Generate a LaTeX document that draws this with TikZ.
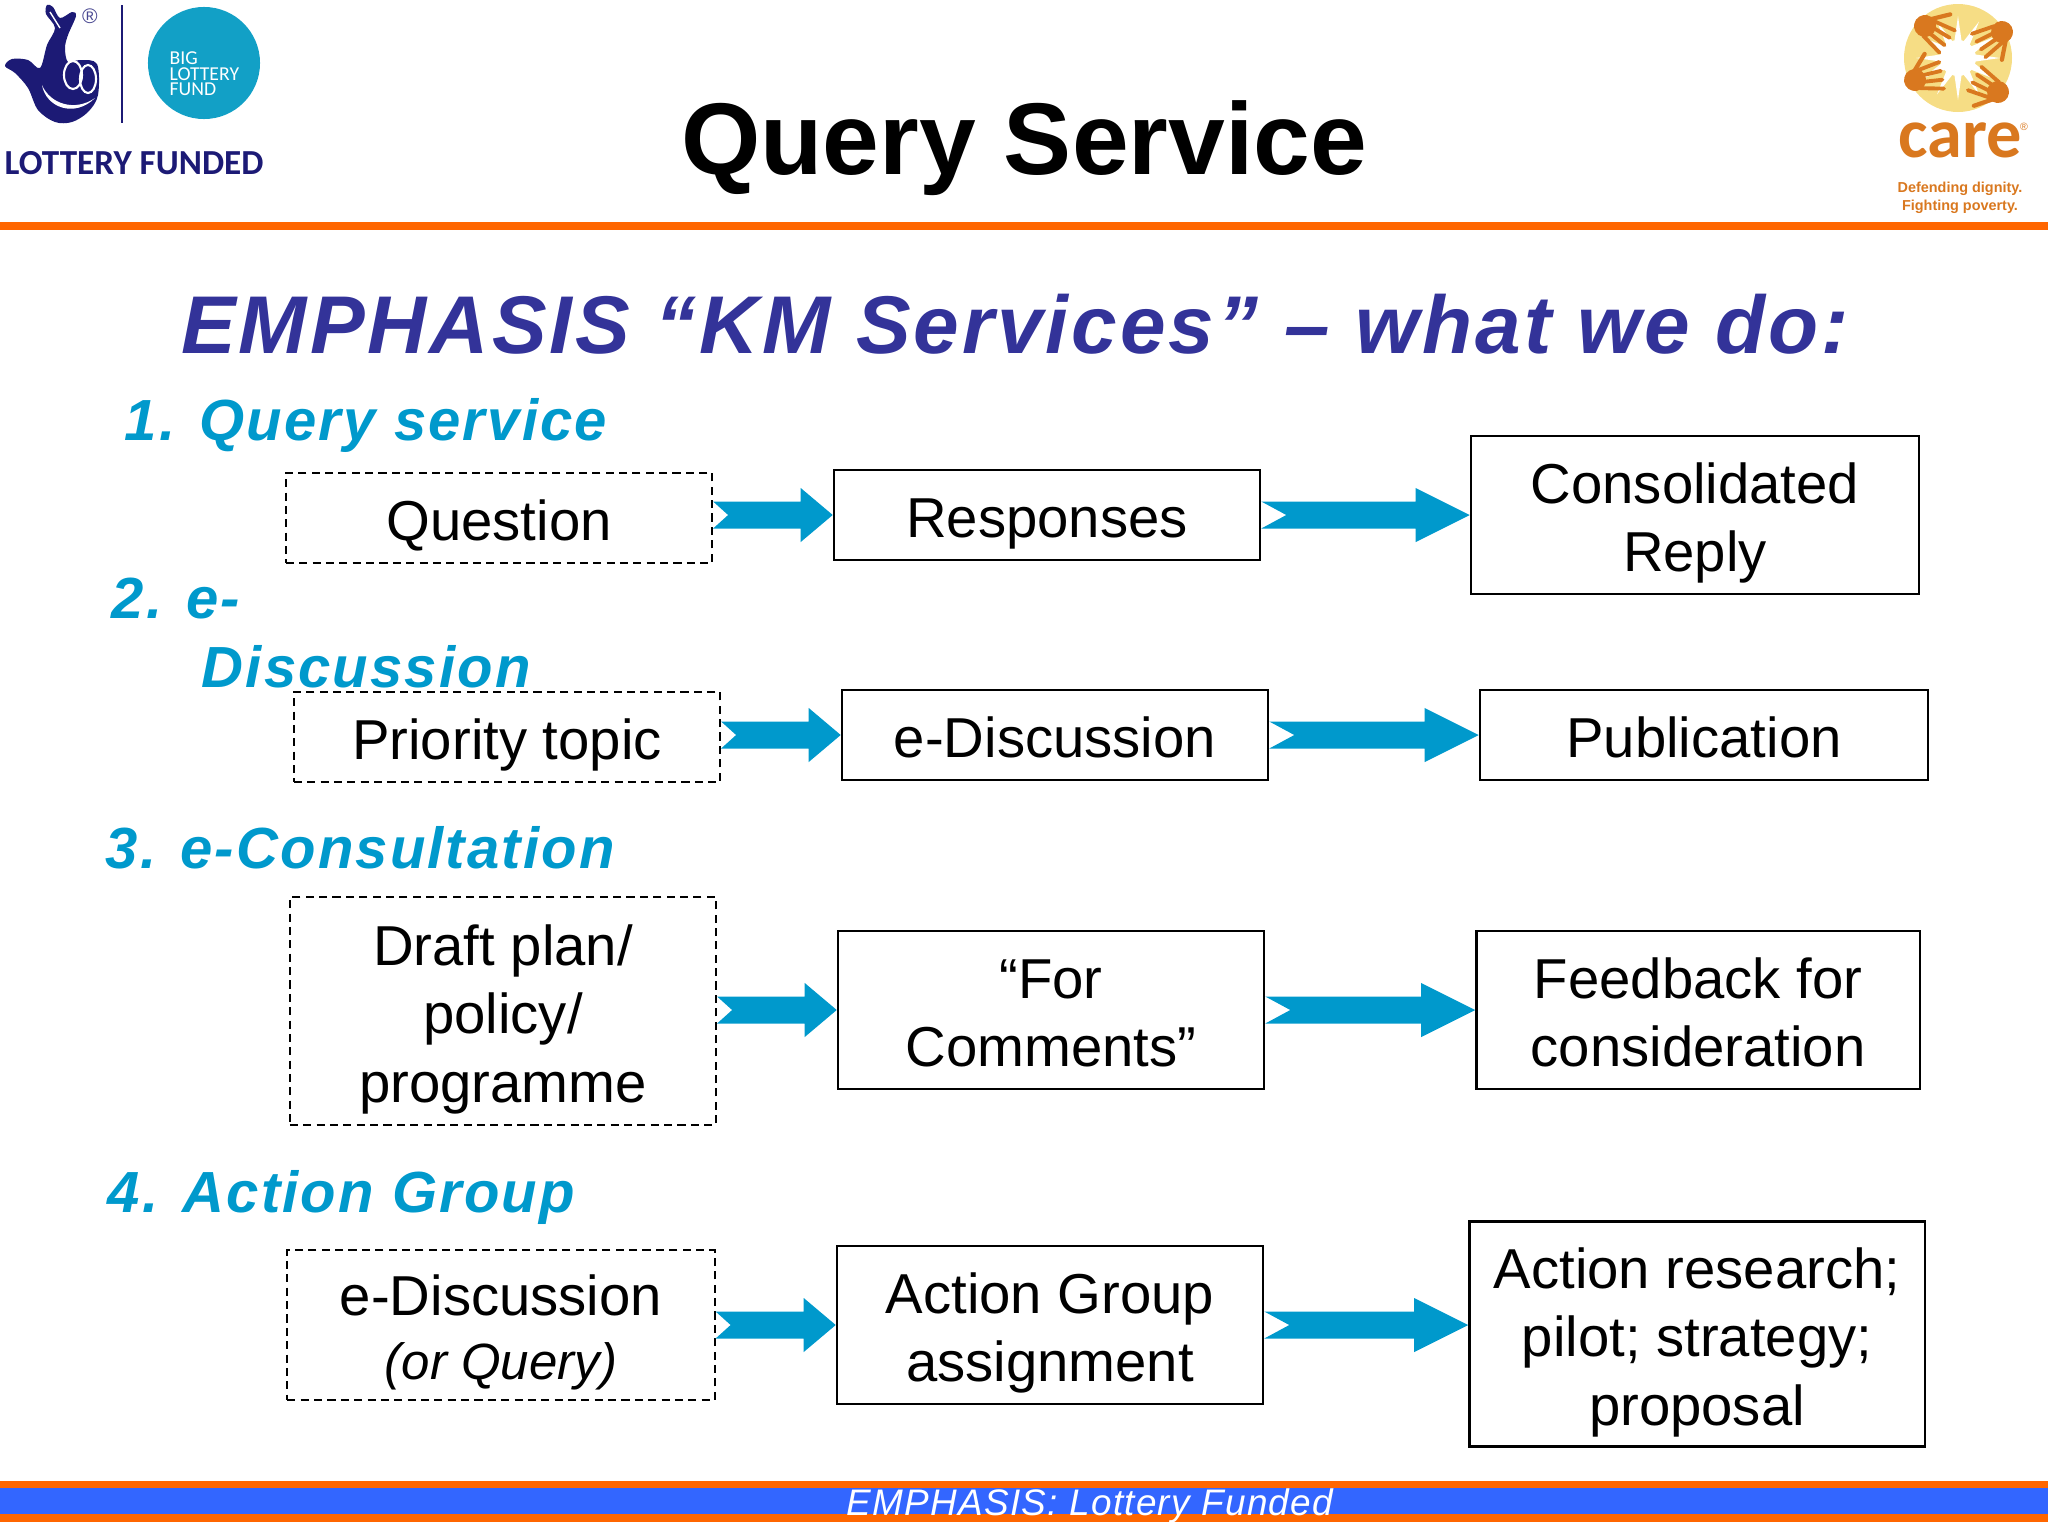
\documentclass[tikz,border=0pt]{standalone}
\usepackage{fontspec}
\setmainfont{Liberation Sans}
\newfontfamily\spacedfont[LetterSpace=3.7]{Liberation Sans}
\newfontfamily\footfont[LetterSpace=3.4]{Liberation Sans}
\newfontfamily\logofont{Carlito}
\usepackage{xcolor}
\usepackage{tikz}
\usetikzlibrary{calc}
\definecolor{myorange}{HTML}{FF6600}
\definecolor{myblue}{HTML}{3366FF}
\definecolor{mycyan}{HTML}{0099CC}
\definecolor{myindigo}{HTML}{333399}
\definecolor{mynavy}{HTML}{1C1A75}
\definecolor{mylotto}{HTML}{12A0C6}
\definecolor{mycare}{HTML}{D9781F}
\definecolor{mysun}{HTML}{F6DD85}
\newcommand{\lineup}{\rule{0pt}{16.4pt}}
\newcommand{\linedown}{\rule[-3.5pt]{0pt}{3.5pt}}
\tikzset{
  box/.style={draw, rectangle, line width=0.65pt, minimum height=1cm, align=center, inner sep=0pt,
    font=\fontsize{16}{19.5}\selectfont},
  box topic/.style={box, line width=0.55pt, dash pattern=on 2.3pt off 1.5pt},
  section/.style={anchor=west, align=left, text=mycyan, inner sep=0pt,
    font=\fontsize{16.5}{19.4}\selectfont\spacedfont\bfseries\itshape},
  flow/.style n args={3}{fill=mycyan, to path={
    let \p1=(\tikztostart.east), \p2=(\tikztotarget.west), \n1={#3} in
    (\x1,\n1+.135cm) -- (\x2-#1,\n1+.135cm) -- (\x2-#1,\n1+.27cm) -- (\x2,\n1)
    -- (\x2-#1,\n1-.27cm) -- (\x2-#1,\n1-.135cm) -- (\x1,\n1-.135cm) -- (\x1+#2,\n1) -- cycle}},
  flow short/.style={flow={.32cm}{.15cm}{\y2}},
  flow long/.style={flow={.54cm}{.25cm}{\y1}}
}

\begin{document}
\begin{tikzpicture}[x=0.01cm, y=-0.01cm]
\useasboundingbox (0,0) rectangle (2048,1536);

% Header and footer
\fill[myorange] (0,222) rectangle (2048,230);
\fill[myorange] (0,1481) rectangle (2048,1522);
\fill[myblue] (0,1488) rectangle (2048,1514);
\node[inner sep=0pt, font=\fontsize{29}{32}\selectfont\bfseries] (title) at (1024,148) {Query Service};
\node[inner sep=0pt, text=myindigo, font=\fontsize{23.3}{26}\selectfont\spacedfont\bfseries\itshape] (heading) at (1015,324)
  {EMPHASIS “KM Services” – what we do:};
\node[inner sep=0pt, text=white, font=\fontsize{10.5}{12}\selectfont\footfont\itshape] (footer) at (1090,1506) {EMPHASIS: Lottery Funded};

% Lottery logo
\fill[mynavy] plot[smooth cycle, tension=0.55] coordinates {(5,66) (12,59) (28,60) (40,68) (47,45) (55,28) (46,14) (47,5) (53,7) (60,18) (72,12) (76,16) (68,35) (65,48) (68,62) (80,60) (97,64) (98,95) (88,112) (72,122) (55,122) (38,110) (28,88) (15,73)};
\draw[white, line width=0.4pt] (50,12) -- (60,28);
\draw[white, line width=0.6pt] (73,75) ellipse (9 and 14);
\draw[white, line width=0.6pt] (88,79) ellipse (8 and 14);
\fill[white] (42,85) .. controls (50,104) and (75,112) .. (95,98) .. controls (75,118) and (46,108) .. (42,85) -- cycle;
\node[inner sep=0pt, text=mynavy!80, font=\fontsize{6}{6}\selectfont] (lottoreg) at (90,16) {®};
\draw[mynavy, line width=0.5pt] (122,5) -- (122,123);
\node[circle, fill=mylotto, minimum size=1.12cm, inner sep=0pt] (lottocircle) at (204,63) {};
\node[inner sep=0pt, anchor=west, align=left, text=white, font=\fontsize{5.6}{4.4}\selectfont\logofont] (lottotext) at (169,74) {BIG\\LOTTERY\\FUND};
\node[inner sep=0pt, anchor=west, text=mynavy, font=\fontsize{10}{11}\selectfont\logofont\bfseries] (lottoname) at (4,163) {LOTTERY FUNDED};

% Care logo
\fill[mysun] (1958,58) circle (54);
\foreach \ang in {0,30,...,330}
  \fill[white, rotate around={\ang:(1958,58)}] (1958,52) -- (2000,58) -- (1958,64) -- cycle;
\fill[white] (1958,58) circle (18);
\foreach \ang/\px/\py in {-35/1925/26, -150/2002/32, 10/1915/80, 150/1998/92} {
  \begin{scope}[shift={(\px,\py)}, rotate=\ang]
    \fill[mycare] (0,0) circle (11);
    \foreach \fy in {-9,-3,3,9}
      \draw[mycare, line width=1.1pt, line cap=round] (4,\fy) -- (27,\fy*1.5);
    \draw[mycare, line width=1.2pt, line cap=round] (0,-8) -- (14,-24);
  \end{scope}
}
\node[inner sep=0pt, text=mycare, font=\fontsize{20}{22}\selectfont\logofont\bfseries] (carename) at (1960,140) {care};
\node[inner sep=0pt, text=mycare, font=\fontsize{3}{3}\selectfont] (carereg) at (2024,127) {®};
\node[inner sep=0pt, align=center, text=mycare, font=\fontsize{4.1}{5.1}\selectfont\bfseries] (caretag) at (1960,198) {Defending dignity.\\Fighting poverty.};

% The sections
\node[section] (sec1) at (124,425) {1. Query service};
\node[section] (sec2) at (111,633) {2. e-\\\hspace*{0.9cm}Discussion};
\node[section] (sec3) at (105,848) {3. e-Consultation};
\node[section] (sec4) at (107,1197) {4. Action Group};

% The boxes
\node[box topic, minimum width=4.26cm, minimum height=.9cm] (question) at (499,518) {\lineup Question\linedown};
\node[box, minimum width=4.26cm, minimum height=.9cm] (responses) at (1047,515) {\lineup Responses\linedown};
\node[box, minimum width=4.48cm, minimum height=1.58cm] (reply) at (1695,515) {\lineup Consolidated\\Reply\linedown};

\node[box topic, minimum width=4.26cm, minimum height=.9cm] (topic) at (507,737) {\lineup Priority topic\linedown};
\node[box, minimum width=4.26cm, minimum height=.9cm] (ediscussion) at (1055,735) {\lineup e-Discussion\linedown};
\node[box, minimum width=4.48cm, minimum height=.9cm] (publication) at (1704,735) {\lineup Publication\linedown};

\node[box topic, minimum width=4.26cm, minimum height=2.27cm] (draft) at (503,1011) {\lineup Draft plan/\\policy/\\programme\linedown};
\node[box, minimum width=4.26cm, minimum height=1.58cm] (comments) at (1051,1010) {\lineup “For\\Comments”\linedown};
\node[box, minimum width=4.43cm, minimum height=1.58cm] (feedback) at (1698,1010) {\lineup Feedback for\\consideration\linedown};

\node[box topic, minimum width=4.27cm, minimum height=1.5cm] (query) at (501,1325) {\lineup e-Discussion\\[-1.2pt]\fontsize{14.5}{19.5}\selectfont\itshape (or Query)\linedown};
\node[box, minimum width=4.26cm, minimum height=1.58cm] (assignment) at (1050,1325) {\lineup Action Group\\assignment\linedown};
\node[box, minimum width=4.55cm, minimum height=2.25cm] (research) at (1697,1334) {\lineup Action research;\\pilot; strategy;\\proposal\linedown};

% The connections
\fill[flow short] (question) to (responses);
\fill[flow long] (responses) to (reply);
\fill[flow short] (topic) to (ediscussion);
\fill[flow long] (ediscussion) to (publication);
\fill[flow short] (draft) to (comments);
\fill[flow long] (comments) to (feedback);
\fill[flow short] (query) to (assignment);
\fill[flow long] (assignment) to (research);

\end{tikzpicture}
\end{document}
